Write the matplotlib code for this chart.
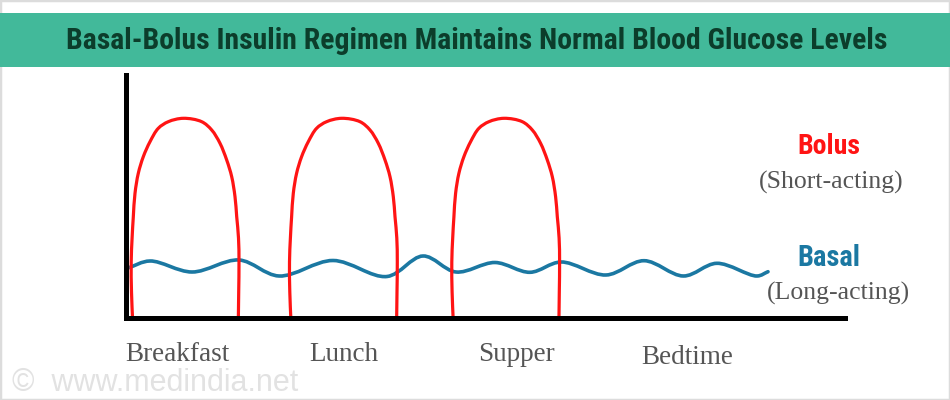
"""
Basal-Bolus insulin regimen - schematic profile chart
"""

import matplotlib
matplotlib.use('Agg')
import matplotlib.pyplot as plt
from matplotlib import font_manager
from matplotlib.path import Path
from matplotlib.patches import PathPatch, Rectangle

# ── Data (units: chart pixels from the axis origin) ───────────
meal_labels = ['Breakfast', 'Lunch', 'Supper', 'Bedtime']
bolus_starts = [6.7, 165.0, 327.3]          # left foot of each bolus peak

# shape of one bolus peak: offset from its left foot, height
bolus_dx = [0, -1.2, -1.5, -0.6, 0.6, 2.3, 5.6, 10.6, 17.3, 25.6, 35.6, 50.6,
            69.0, 79.0, 87.3, 94.0, 99.0, 102.3, 104.0, 105.8, 106.3, 106.0, 105.6]
bolus_h = [-4, 26, 56, 80, 101, 124.7, 144.7, 161.3, 176.3, 189.7, 196.3, 199.7,
           196.3, 188, 174.7, 158, 141.3, 121.3, 101.3, 80, 56, 26, -4]

basal_x = [2, 24, 66, 113, 153, 207, 261, 297, 330, 369, 404, 435,
           480, 518, 557.5, 590.7, 631, 642]
basal_y = [50, 57, 46, 58, 42, 57.5, 41.5, 62, 46, 55.5, 45.7, 56,
           43, 57.3, 42, 54.7, 42, 46.3]

TITLE = 'Basal-Bolus Insulin Regimen Maintains Normal Blood Glucose Levels'

RED = '#ff1414'
BLUE = '#1b78a2'
GREY = '#555555'


def pick_font(names):
    for n in names:
        try:
            font_manager.findfont(font_manager.FontProperties(family=n),
                                  fallback_to_default=False)
            return n
        except ValueError:
            continue
    return 'DejaVu Sans'


NARROW = pick_font(['Liberation Sans Narrow', 'Roboto Condensed',
                    'Open Sans Condensed', 'Roboto', 'DejaVu Sans'])
SERIF = pick_font(['Liberation Serif', 'DejaVu Serif'])


def smooth_path(xs, ys, alpha=0.5):
    """Centripetal Catmull-Rom through the points, as cubic Bezier segments."""
    pts = list(zip(xs, ys))
    # phantom end points by reflection
    first = (2 * pts[0][0] - pts[1][0], 2 * pts[0][1] - pts[1][1])
    last = (2 * pts[-1][0] - pts[-2][0], 2 * pts[-1][1] - pts[-2][1])
    ext = [first] + pts + [last]

    def dist(a, b):
        return max(((a[0] - b[0]) ** 2 + (a[1] - b[1]) ** 2) ** (alpha / 2), 1e-6)

    verts = [pts[0]]
    codes = [Path.MOVETO]
    for i in range(1, len(ext) - 2):
        p0, p1, p2, p3 = ext[i - 1], ext[i], ext[i + 1], ext[i + 2]
        d1, d2, d3 = dist(p0, p1), dist(p1, p2), dist(p2, p3)
        c1 = tuple((d1 ** 2 * p2[k] - d2 ** 2 * p0[k]
                    + (2 * d1 ** 2 + 3 * d1 * d2 + d2 ** 2) * p1[k])
                   / (3 * d1 * (d1 + d2)) for k in range(2))
        c2 = tuple((d3 ** 2 * p1[k] - d2 ** 2 * p3[k]
                    + (2 * d3 ** 2 + 3 * d3 * d2 + d2 ** 2) * p2[k])
                   / (3 * d3 * (d3 + d2)) for k in range(2))
        verts += [c1, c2, p2]
        codes += [Path.CURVE4] * 3
    return Path(verts, codes)


def fit_width(txt, width_px):
    fig.canvas.draw()
    w = txt.get_window_extent().width
    txt.set_fontsize(txt.get_fontsize() * width_px / w)


# ── Figure ───────────────────────────────────────────────────
W, H = 950, 400
fig = plt.figure(figsize=(W / 100, H / 100), dpi=100)
fig.patch.set_facecolor('white')

# outer light border and title band
fig.add_artist(Rectangle((0, 0), 1, 1, transform=fig.transFigure,
                         fill=False, ec='#dcdcdc', lw=2.5))
fig.add_artist(Rectangle((0, 1 - 67 / H), 1, 54 / H, transform=fig.transFigure,
                         fc='#42b99a', ec='none'))

title = fig.text(477 / W, 1 - 41 / H, TITLE, ha='center', va='center',
                 color='#0c3d2b', fontsize=24, fontweight='bold', family=NARROW)
fit_width(title, 825)

# ── Axes ─────────────────────────────────────────────────────
ox, oy = 126, 318
ax = fig.add_axes([ox / W, 1 - oy / H, 719 / W, 243 / H])
ax.set_xlim(0, 719)
ax.set_ylim(0, 243)
ax.set_facecolor('none')
for side in ['top', 'right']:
    ax.spines[side].set_visible(False)
for side in ['left', 'bottom']:
    ax.spines[side].set_linewidth(3.6)
    ax.spines[side].set_color('black')
    ax.spines[side].set_zorder(5)
ax.set_xticks([])
ax.set_yticks([])

for x0 in bolus_starts:
    ax.add_patch(PathPatch(smooth_path([x0 + d for d in bolus_dx], bolus_h),
                           fill=False, ec=RED, lw=2.3, zorder=3))

ax.add_patch(PathPatch(smooth_path(basal_x, basal_y),
                       fill=False, ec=BLUE, lw=2.6, capstyle='round', zorder=2))

# ── Labels ───────────────────────────────────────────────────
label_x = [125, 309, 478, 641]
label_base = [361, 361, 361, 364]
for lab, lx, ly in zip(meal_labels, label_x, label_base):
    fig.text(lx / W, 1 - ly / H, lab, ha='left', va='baseline',
             fontsize=19.5, color=GREY, family=SERIF)

bolus_t = fig.text(829 / W, 1 - 154 / H, 'Bolus', ha='center', va='baseline',
                   fontsize=22, fontweight='bold', color=RED, family=NARROW)
fit_width(bolus_t, 63)
fig.text(831 / W, 1 - 189 / H, '(Short-acting)', ha='center', va='baseline',
         fontsize=18.5, color=GREY, family=SERIF)
basal_t = fig.text(829 / W, 1 - 266 / H, 'Basal', ha='center', va='baseline',
                   fontsize=22, fontweight='bold', color=BLUE, family=NARROW)
fit_width(basal_t, 63)
fig.text(838 / W, 1 - 300 / H, '(Long-acting)', ha='center', va='baseline',
         fontsize=18.5, color=GREY, family=SERIF)

# watermark
fig.text(12 / W, 1 - 391 / H, '\u00a9  www.medindia.net', ha='left',
         va='baseline', fontsize=22, color='#e2e2e2', family='Liberation Sans')

fig.savefig('out.png', dpi=100)
